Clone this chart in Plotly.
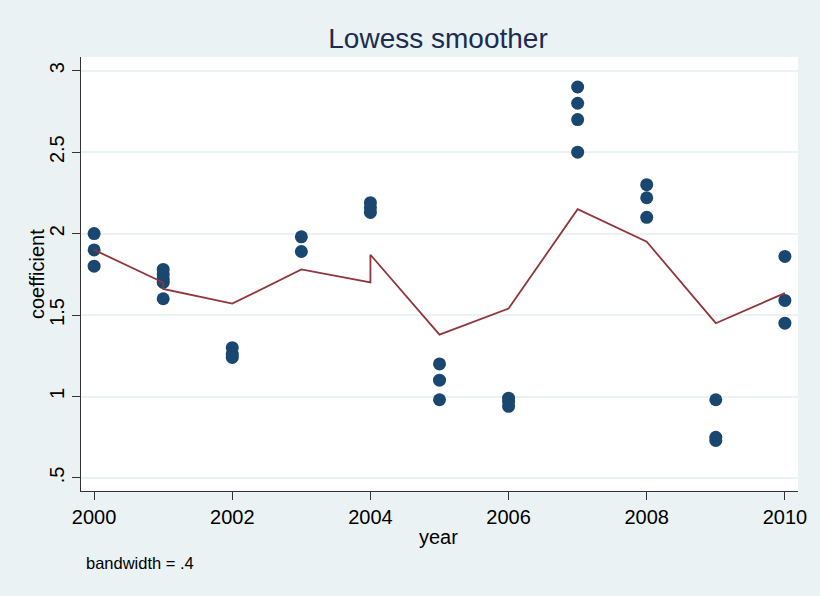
import plotly.graph_objects as go

# Scatter data (year, coefficient)
years = [2000, 2000, 2000,
         2001, 2001, 2001, 2001, 2001,
         2002, 2002, 2002,
         2003, 2003,
         2004, 2004, 2004,
         2005, 2005, 2005,
         2006, 2006, 2006,
         2007, 2007, 2007, 2007,
         2008, 2008, 2008,
         2009, 2009, 2009,
         2010, 2010, 2010]
coef = [2.00, 1.90, 1.80,
        1.78, 1.75, 1.72, 1.70, 1.60,
        1.30, 1.26, 1.24,
        1.98, 1.89,
        2.19, 2.16, 2.13,
        1.20, 1.10, 0.98,
        0.99, 0.97, 0.94,
        2.90, 2.80, 2.70, 2.50,
        2.30, 2.22, 2.10,
        0.98, 0.75, 0.73,
        1.86, 1.59, 1.45]

# Lowess smoothed line
smooth_x = [2000, 2001, 2001, 2002, 2003, 2004, 2004, 2005, 2006, 2007, 2008, 2009, 2010]
smooth_y = [1.90, 1.70, 1.66, 1.57, 1.78, 1.70, 1.87, 1.38, 1.54, 2.15, 1.95, 1.45, 1.635]

x_ticks = [2000, 2002, 2004, 2006, 2008, 2010]
y_ticks = [0.5, 1, 1.5, 2, 2.5, 3]
y_tick_text = [".5", "1", "1.5", "2", "2.5", "3"]

FONT = "Liberation Sans, Arial, sans-serif"
BG = "#EAF2F3"
W, H = 820, 596
L, R, T, B = 81, 22, 57, 105
PW, PH = W - L - R, H - T - B

fig = go.Figure()
fig.add_trace(go.Scatter(
    x=years, y=coef, mode="markers",
    marker=dict(color="#1A476F", size=13, line=dict(width=0)),
    showlegend=False, hoverinfo="skip"))
fig.add_trace(go.Scatter(
    x=smooth_x, y=smooth_y, mode="lines",
    line=dict(color="#90353B", width=1.8),
    showlegend=False, hoverinfo="skip"))

fig.update_layout(
    width=W, height=H,
    margin=dict(l=L, r=R, t=T, b=B),
    paper_bgcolor=BG, plot_bgcolor="white",
    font=dict(family=FONT, color="black"),
    title=dict(text="Lowess smoother", x=438 / W, xanchor="center",
               y=1 - 38 / H, yanchor="middle",
               font=dict(size=28, color="#1C2B50", family=FONT)),
    xaxis=dict(
        range=[1999.81, 2010.19], tickvals=x_ticks,
        ticks="outside", ticklen=8, tickcolor="#333", tickwidth=1.2,
        showline=True, linecolor="#333", linewidth=1.2,
        showgrid=False, zeroline=False,
        tickfont=dict(size=20, family=FONT, color="black"),
    ),
    yaxis=dict(
        range=[0.42, 3.084], tickvals=y_ticks, ticktext=y_tick_text,
        tickangle=-90,
        ticks="outside", ticklen=8, tickcolor="#333", tickwidth=1.2,
        showline=True, linecolor="#333", linewidth=1.2,
        showgrid=True, gridcolor=BG, gridwidth=1.5, zeroline=False,
        tickfont=dict(size=20, family=FONT, color="black"),
    ),
    annotations=[
        dict(text="year", xref="paper", yref="paper",
             x=(438 - L) / PW, y=-(537 - (T + PH)) / PH,
             xanchor="center", yanchor="middle", showarrow=False,
             font=dict(size=20, family=FONT, color="black")),
        dict(text="coefficient", xref="paper", yref="paper",
             x=-(L - 37) / PW, y=(T + PH - 274) / PH, textangle=-90,
             xanchor="center", yanchor="middle", showarrow=False,
             font=dict(size=20, family=FONT, color="black")),
        dict(text="bandwidth = .4", xref="paper", yref="paper",
             x=(84 - L) / PW, y=-(563 - (T + PH)) / PH,
             xanchor="left", yanchor="middle", showarrow=False,
             font=dict(size=16.5, family=FONT, color="black")),
    ],
)

fig.write_html("out.html", config={"displayModeBar": False},
               post_script="document.body.style.margin='0';")
